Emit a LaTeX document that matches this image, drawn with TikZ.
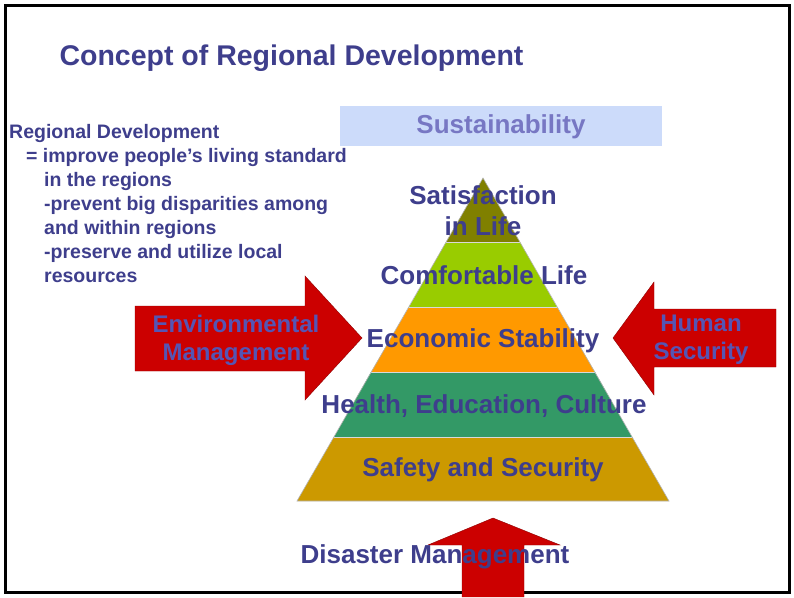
\documentclass[tikz,border=0pt]{standalone}
\usepackage{fontspec}
\setmainfont{Liberation Sans}
\usetikzlibrary{calc}
\definecolor{txtblue}{RGB}{62,62,140}
\definecolor{arrtxt}{RGB}{85,85,180}
\definecolor{arrred}{RGB}{204,0,0}
\definecolor{skyblue}{RGB}{204,219,250}
\definecolor{olive1}{RGB}{128,128,0}
\definecolor{lime1}{RGB}{153,204,0}
\definecolor{orange1}{RGB}{255,153,0}
\definecolor{green1}{RGB}{51,153,102}
\definecolor{gold1}{RGB}{204,153,0}
\begin{document}
\begin{tikzpicture}[x=1pt,y=-1pt,
		lvl/.style={font=\bfseries\fontsize{26}{31}\selectfont,text=txtblue},
		side/.style={font=\bfseries\fontsize{24}{28}\selectfont,text=arrtxt,align=center},
		bigarrow/.style={fill=arrred,draw=arrred!70!black,line width=0.4pt}
	]
		\useasboundingbox (0,0) rectangle (794,597);
		% frame and title
		\draw[line width=3pt] (5,5) rectangle (789,592);
		\node[anchor=west,font=\bfseries\fontsize{28.5}{30}\selectfont,text=txtblue] (title) at (56,58) {Concept of Regional Development};
		
		% Sustainability bar
		\fill[skyblue] (340,106) rectangle (662,146);
		\node[font=\bfseries\fontsize{26}{28}\selectfont,text=arrtxt!80!white] (sust) at (501,127) {Sustainability};
		
		% Definition text
		\node[anchor=north west,align=left,font=\bfseries\fontsize{19.5}{24}\selectfont,text=txtblue,inner sep=0pt] (def) at (9,124)
		{Regional Development\\
			\hspace*{17pt}= improve people’s living standard\\
			\hspace*{35pt}in the regions\\
			\hspace*{35pt}-prevent big disparities among\\
			\hspace*{35pt}and within regions\\
			\hspace*{35pt}-preserve and utilize local\\
			\hspace*{35pt}resources};
		
		% Pyramid layers
		\coordinate (apex) at (483,178);
		\fill[olive1] (apex) -- (520,242) -- (446,242) -- cycle;
		\fill[lime1] (446,242) -- (520,242) -- (557,307) -- (409,307) -- cycle;
		\fill[orange1] (409,307) -- (557,307) -- (595,372) -- (371,372) -- cycle;
		\fill[green1] (371,372) -- (595,372) -- (632,437) -- (334,437) -- cycle;
		\fill[gold1] (334,437) -- (632,437) -- (669,501) -- (297,501) -- cycle;
		\foreach \y/\l/\r in {242/446/520,307/409/557,372/371/595,437/334/632}
			\draw[white!70!gray,line width=0.8pt] (\l,\y) -- (\r,\y);
		\draw[gray!60,line width=0.6pt] (apex) -- (669,501) -- (297,501) -- cycle;
		
		% Side and bottom arrows
		\draw[bigarrow] (135,306) -- (305,306) -- (305,276) -- (362,338) -- (305,400) -- (305,371) -- (135,371) -- cycle;
		\draw[bigarrow] (776,309) -- (654,309) -- (654,282) -- (613,338) -- (654,395) -- (654,367) -- (776,367) -- cycle;
		\draw[bigarrow] (462,597) -- (462,545) -- (428,545) -- (493,518) -- (560,545) -- (524,545) -- (524,597);
		
		% Labels
		\node[lvl,align=center] (sat) at (483,211) {Satisfaction\\in Life};
		\node[lvl] (comf) at (484,275) {Comfortable Life};
		\node[lvl] (econ) at (483,341) {Economic Stability};
		\node[lvl] (health) at (484,406) {Health, Education, Culture};
		\node[lvl] (safety) at (483,470) {Safety and Security};
		\node[lvl] (disaster) at (435,557) {Disaster Management};
		\node[side] (env) at (236,340) {Environmental\\Management};
		\node[side] (human) at (701,340) {Human\\Security};
\end{tikzpicture}
\end{document}
